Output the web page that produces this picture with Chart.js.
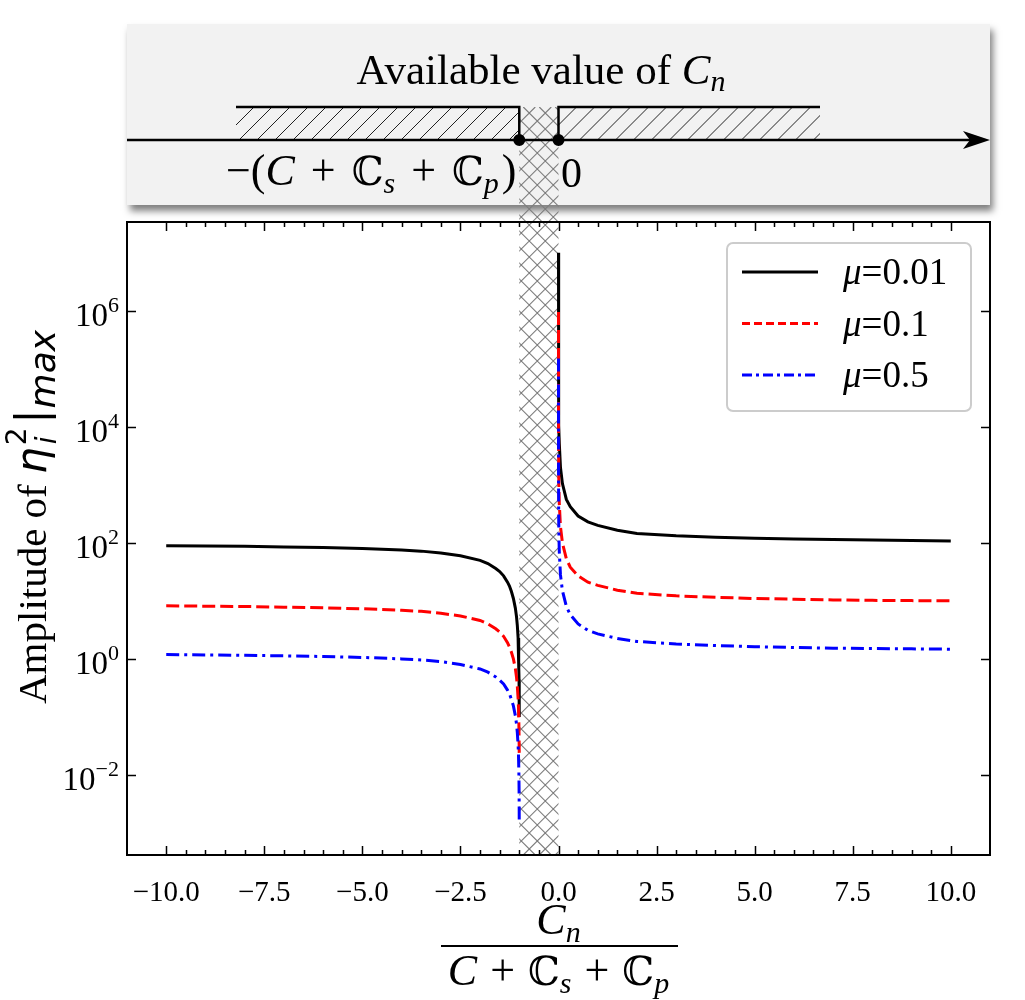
<!DOCTYPE html>
<html>
<head>
<meta charset="utf-8">
<script src="https://cdn.jsdelivr.net/npm/chart.js@4.4.1/dist/chart.umd.min.js"></script>
<style>
  body { margin: 0; background: #fff; }
  canvas { display: block; }
</style>
</head>
<body>
<canvas id="ampChart" width="1025" height="1000"></canvas>
<script>
// x values, left branch (C_n / (C+Cs+Cp) < -1) and right branch (> 0)
var xLeft = [-10, -9, -8, -7, -6, -5, -4, -3.5, -3, -2.5, -2, -1.8, -1.6, -1.5, -1.4, -1.3, -1.25, -1.2, -1.15, -1.1, -1.07, -1.05, -1.03, -1.02, -1.01, -1.005, -1.002, -1.001];
var xRight = [0.00001, 0.0001, 0.001, 0.005, 0.01, 0.02, 0.05, 0.1, 0.2, 0.3, 0.5, 0.75, 1, 1.5, 2, 3, 4, 5, 6, 7, 8, 9, 10];

// amplitudes
var mu001Left = [89, 88, 87, 85, 83, 80, 75, 72, 67, 60, 50, 44, 36, 32, 27, 21, 18, 14.5, 11, 7.5, 5.3, 3.8, 2.3, 1.6, 0.8, 0.4, 0.17, 0.1];
var mu01Left = [8.2, 8.1, 8.0, 7.8, 7.6, 7.3, 6.9, 6.6, 6.1, 5.5, 4.6, 4.0, 3.3, 2.9, 2.45, 1.9, 1.6, 1.3, 1.0, 0.68, 0.48, 0.34, 0.21, 0.145, 0.075, 0.045, 0.03, 0.024];
var mu05Left = [1.19, 1.17, 1.15, 1.13, 1.1, 1.06, 1.0, 0.96, 0.9, 0.8, 0.67, 0.59, 0.49, 0.43, 0.37, 0.29, 0.25, 0.2, 0.155, 0.105, 0.075, 0.054, 0.033, 0.022, 0.011, 0.0058, 0.0025, 0.0015];

var mu001Right = [1e7, 1e6, 1e5, 2.1e4, 1.05e4, 5200, 2000, 1050, 560, 420, 290, 230, 200, 165, 145, 132, 125, 120, 116, 114, 112, 110, 108];
var mu01Right = [9.5e5, 9.2e4, 9200, 1900, 950, 480, 190, 100, 53, 38, 27, 21, 18.5, 15.3, 13.5, 12.2, 11.5, 11, 10.7, 10.4, 10.2, 10.1, 10.0];
var mu05Right = [1.5e5, 1.4e4, 1400, 280, 140, 71, 28, 15, 8, 5.8, 4.0, 3.1, 2.7, 2.25, 2.0, 1.8, 1.7, 1.62, 1.57, 1.53, 1.51, 1.49, 1.47];

var seriesLabels = ["0.01", "0.1", "0.5"];
var xTickValues = [-10, -7.5, -5, -2.5, 0, 2.5, 5, 7.5, 10];
var yTickPowers = [-2, 0, 2, 4, 6];
var forbiddenFrom = -1, forbiddenTo = 0;

var SERIF = '"Liberation Serif", "Times New Roman", serif';
var DBL = '"DejaVu Serif", serif';
var MATH = '"DejaVu Sans", sans-serif';

function branch(xs, ys) {
	var pts = [];
	for (var i = 0; i < xs.length; i++) {
		pts.push({x: xs[i], y: ys[i]});
	}
	return pts;
}
function curve(left, right) {
	return branch(xLeft, left).concat([{x: -0.5, y: null}], branch(xRight, right));
}

// draws a list of text pieces one after another, returns the end x
function drawPieces(ctx, pieces, x, y) {
	for (var i = 0; i < pieces.length; i++) {
		var p = pieces[i];
		ctx.font = p.font;
		ctx.fillText(p.t, x, y + (p.dy || 0));
		x += ctx.measureText(p.t).width + (p.gap || 0);
	}
	return x;
}
function piecesWidth(ctx, pieces) {
	var w = 0;
	for (var i = 0; i < pieces.length; i++) {
		ctx.font = pieces[i].font;
		w += ctx.measureText(pieces[i].t).width + (pieces[i].gap || 0);
	}
	return w;
}

function crossHatch(ctx, x0, x1, y0, y1, step) {
	ctx.save();
	ctx.beginPath();
	ctx.rect(x0, y0, x1 - x0, y1 - y0);
	ctx.clip();
	ctx.strokeStyle = "#7d7d7d";
	ctx.lineWidth = 1.2;
	ctx.beginPath();
	var h = y1 - y0;
	for (var s = x0 - h; s < x1 + h; s += step) {
		ctx.moveTo(s, y1); ctx.lineTo(s + h, y0);
		ctx.moveTo(s, y0); ctx.lineTo(s + h, y1);
	}
	ctx.stroke();
	ctx.restore();
}
function diagHatch(ctx, x0, x1, y0, y1, step) {
	ctx.save();
	ctx.beginPath();
	ctx.rect(x0, y0, x1 - x0, y1 - y0);
	ctx.clip();
	ctx.strokeStyle = "#222";
	ctx.lineWidth = 1;
	ctx.beginPath();
	var h = y1 - y0;
	for (var s = x0 - h; s < x1 + h; s += step) {
		ctx.moveTo(s, y1); ctx.lineTo(s + h, y0);
	}
	ctx.stroke();
	ctx.restore();
}

// background, inset diagram and the forbidden band
var backdropPlugin = {
	id: "backdrop",
	beforeDraw: function(chart) {
		var ctx = chart.ctx;
		var xs = chart.scales.x;
		var pa = xs.getPixelForValue(forbiddenFrom);
		var pb = xs.getPixelForValue(forbiddenTo);
		var area = chart.chartArea;

		ctx.save();
		ctx.fillStyle = "#fff";
		ctx.fillRect(0, 0, chart.width, chart.height);

		// inset box with shadow
		ctx.save();
		ctx.shadowColor = "rgba(0,0,0,0.5)";
		ctx.shadowBlur = 7;
		ctx.shadowOffsetX = 3;
		ctx.shadowOffsetY = 6;
		ctx.fillStyle = "#f2f2f2";
		ctx.fillRect(area.left, 24, area.right - area.left, 181);
		ctx.restore();

		// band between -1 and 0
		crossHatch(ctx, pa, pb, 107, area.bottom, 16);

		// hatched allowed intervals
		var lineY = 140, topY = 107;
		diagHatch(ctx, 236, pa, topY, lineY, 18);
		diagHatch(ctx, pb, 820, topY, lineY, 18);
		ctx.strokeStyle = "#000";
		ctx.lineWidth = 2.5;
		ctx.beginPath();
		ctx.moveTo(236, topY); ctx.lineTo(pa, topY); ctx.lineTo(pa, lineY);
		ctx.moveTo(820, topY); ctx.lineTo(pb, topY); ctx.lineTo(pb, lineY);
		ctx.stroke();

		// number line with arrow
		ctx.beginPath();
		ctx.moveTo(area.left, lineY); ctx.lineTo(970, lineY);
		ctx.stroke();
		ctx.fillStyle = "#000";
		ctx.beginPath();
		ctx.moveTo(990, lineY); ctx.lineTo(963, lineY - 9); ctx.lineTo(970, lineY);
		ctx.lineTo(963, lineY + 9); ctx.closePath();
		ctx.fill();
		ctx.beginPath();
		ctx.arc(pa, lineY, 6, 0, Math.PI * 2);
		ctx.arc(pb, lineY, 6, 0, Math.PI * 2);
		ctx.fill();

		// inset texts
		ctx.textBaseline = "alphabetic";
		var title = [
			{t: "Available value of ", font: "43px " + SERIF},
			{t: "C", font: "italic 43px " + SERIF},
			{t: "n", font: "italic 30px " + SERIF, dy: 7}
		];
		drawPieces(ctx, title, 541 - piecesWidth(ctx, title) / 2, 84);
		var low = [
			{t: "\u2212(", font: "44px " + SERIF},
			{t: "C", font: "italic 44px " + SERIF, gap: 16},
			{t: "+", font: "44px " + SERIF, gap: 16},
			{t: "\u2102", font: "40px " + DBL},
			{t: "s", font: "italic 30px " + SERIF, dy: 8, gap: 16},
			{t: "+", font: "44px " + SERIF, gap: 16},
			{t: "\u2102", font: "40px " + DBL},
			{t: "p", font: "italic 30px " + SERIF, dy: 8, gap: 3},
			{t: ")", font: "44px " + SERIF}
		];
		drawPieces(ctx, low, 226, 185);
		ctx.font = "42px " + SERIF;
		ctx.fillText("0", 561, 187);
		ctx.restore();
	}
};

// frame, inward ticks, y labels, legend and axis titles
var decorPlugin = {
	id: "decor",
	afterDraw: function(chart) {
		var ctx = chart.ctx;
		var a = chart.chartArea;
		var xs = chart.scales.x, ys = chart.scales.y;
		ctx.save();
		ctx.strokeStyle = "#000";
		ctx.fillStyle = "#000";

		// ticks
		ctx.lineWidth = 1.5;
		ctx.beginPath();
		for (var v = -10; v <= 10.001; v += 0.5) {
			var px = Math.round(xs.getPixelForValue(v)) + 0.5;
			var major = Math.abs(v / 2.5 - Math.round(v / 2.5)) < 1e-6;
			var len = major ? 9 : 5;
			ctx.moveTo(px, a.bottom); ctx.lineTo(px, a.bottom - len);
			ctx.moveTo(px, a.top); ctx.lineTo(px, a.top + len);
		}
		for (var k = 0; k < yTickPowers.length; k++) {
			var py = Math.round(ys.getPixelForValue(Math.pow(10, yTickPowers[k]))) + 0.5;
			ctx.moveTo(a.left, py); ctx.lineTo(a.left + 9, py);
			ctx.moveTo(a.right, py); ctx.lineTo(a.right - 9, py);
		}
		ctx.stroke();

		// frame
		ctx.lineWidth = 2;
		ctx.strokeRect(a.left, a.top, a.right - a.left, a.bottom - a.top);

		// y tick labels 10^k
		ctx.textBaseline = "alphabetic";
		for (var j = 0; j < yTickPowers.length; j++) {
			var yy = ys.getPixelForValue(Math.pow(10, yTickPowers[j]));
			var sup = yTickPowers[j] < 0 ? "\u2212" + (-yTickPowers[j]) : String(yTickPowers[j]);
			var lab = [
				{t: "10", font: "33px " + SERIF},
				{t: sup, font: "22px " + SERIF, dy: -14}
			];
			drawPieces(ctx, lab, a.left - 8 - piecesWidth(ctx, lab), yy + 15);
		}

		// legend
		var lx = 727, ly = 243, lw = 244, lh = 168;
		ctx.save();
		ctx.fillStyle = "rgba(255,255,255,0.9)";
		ctx.strokeStyle = "#cccccc";
		ctx.lineWidth = 2;
		ctx.beginPath();
		ctx.roundRect(lx, ly, lw, lh, 6);
		ctx.fill();
		ctx.stroke();
		ctx.restore();
		var dsets = chart.data.datasets;
		for (var i = 0; i < dsets.length; i++) {
			var rowY = 272 + i * 51.5;
			ctx.save();
			ctx.strokeStyle = dsets[i].borderColor;
			ctx.lineWidth = 2.8;
			ctx.setLineDash(i === 0 ? [] : (i === 1 ? [8, 4] : [10, 4, 3, 4]));
			ctx.beginPath();
			ctx.moveTo(742, rowY); ctx.lineTo(818, rowY);
			ctx.stroke();
			ctx.restore();
			drawPieces(ctx, [
				{t: "\u03bc", font: "italic 37px " + SERIF},
				{t: "=" + seriesLabels[i], font: "37px " + SERIF}
			], 843, rowY + 12);
		}

		// y title
		ctx.save();
		ctx.translate(46, 704);
		ctx.rotate(-Math.PI / 2);
		var xEnd = drawPieces(ctx, [
			{t: "Amplitude of ", font: "41px " + SERIF},
			{t: "\u03b7", font: "oblique 42px " + MATH, gap: 2}
		], 0, 0);
		ctx.font = "28px " + MATH;
		ctx.fillText("2", xEnd, -20);
		ctx.font = "oblique 28px " + MATH;
		ctx.fillText("i", xEnd + 1, 10);
		ctx.font = "28px " + MATH;
		drawPieces(ctx, [
			{t: "|", font: "42px " + MATH, gap: 1},
			{t: "max", font: "oblique 36px " + MATH, dy: 9}
		], xEnd + ctx.measureText("2").width + 4, 0);
		ctx.restore();

		// x title as a fraction
		var cx = (a.left + a.right) / 2;
		var num = [
			{t: "C", font: "italic 44px " + SERIF},
			{t: "n", font: "italic 30px " + SERIF, dy: 8}
		];
		drawPieces(ctx, num, cx - piecesWidth(ctx, num) / 2, 934);
		ctx.lineWidth = 2;
		ctx.beginPath();
		ctx.moveTo(441, 946); ctx.lineTo(678, 946);
		ctx.stroke();
		var den = [
			{t: "C", font: "italic 44px " + SERIF, gap: 13},
			{t: "+", font: "44px " + SERIF, gap: 13},
			{t: "\u2102", font: "40px " + DBL},
			{t: "s", font: "italic 30px " + SERIF, dy: 8, gap: 13},
			{t: "+", font: "44px " + SERIF, gap: 13},
			{t: "\u2102", font: "40px " + DBL},
			{t: "p", font: "italic 30px " + SERIF, dy: 8}
		];
		drawPieces(ctx, den, cx - piecesWidth(ctx, den) / 2, 985);
		ctx.restore();
	}
};

var ctx = document.getElementById("ampChart");
var ampChart = new Chart(ctx, {
	type: "line",
	data: {
		datasets: [{
			label: "\u03bc=" + seriesLabels[0],
			data: curve(mu001Left, mu001Right),
			borderColor: "#000000",
			borderWidth: 3,
			order: 3
		}, {
			label: "\u03bc=" + seriesLabels[1],
			data: curve(mu01Left, mu01Right),
			borderColor: "#ff0000",
			borderWidth: 3,
			borderDash: [13, 5],
			order: 2
		}, {
			label: "\u03bc=" + seriesLabels[2],
			data: curve(mu05Left, mu05Right),
			borderColor: "#0000ff",
			borderWidth: 3,
			borderDash: [13, 5, 3, 5],
			order: 1
		}]
	},
	options: {
		responsive: false,
		animation: false,
		devicePixelRatio: 1,
		spanGaps: false,
		elements: {
			point: {radius: 0},
			line: {tension: 0, fill: false}
		},
		layout: {padding: {left: 0, top: 222, right: 35, bottom: 0}},
		plugins: {
			legend: {display: false},
			tooltip: {enabled: false}
		},
		scales: {
			x: {
				type: "linear",
				min: -11,
				max: 11,
				grid: {display: false},
				border: {display: false},
				ticks: {
					color: "#000",
					padding: 13,
					maxRotation: 0,
					font: {family: SERIF, size: 29},
					callback: function(v) {
						var s = Math.abs(v).toFixed(1);
						return v < 0 ? "\u2212" + s : s;
					}
				},
				afterBuildTicks: function(scale) {
					scale.ticks = xTickValues.map(function(v) { return {value: v}; });
				},
				afterFit: function(scale) { scale.height = 145; }
			},
			y: {
				type: "logarithmic",
				min: Math.pow(10, -3.38),
				max: Math.pow(10, 7.53),
				grid: {display: false},
				border: {display: false},
				ticks: {display: false},
				afterFit: function(scale) { scale.width = 127; }
			}
		}
	},
	plugins: [backdropPlugin, decorPlugin]
});
</script>
</body>
</html>
